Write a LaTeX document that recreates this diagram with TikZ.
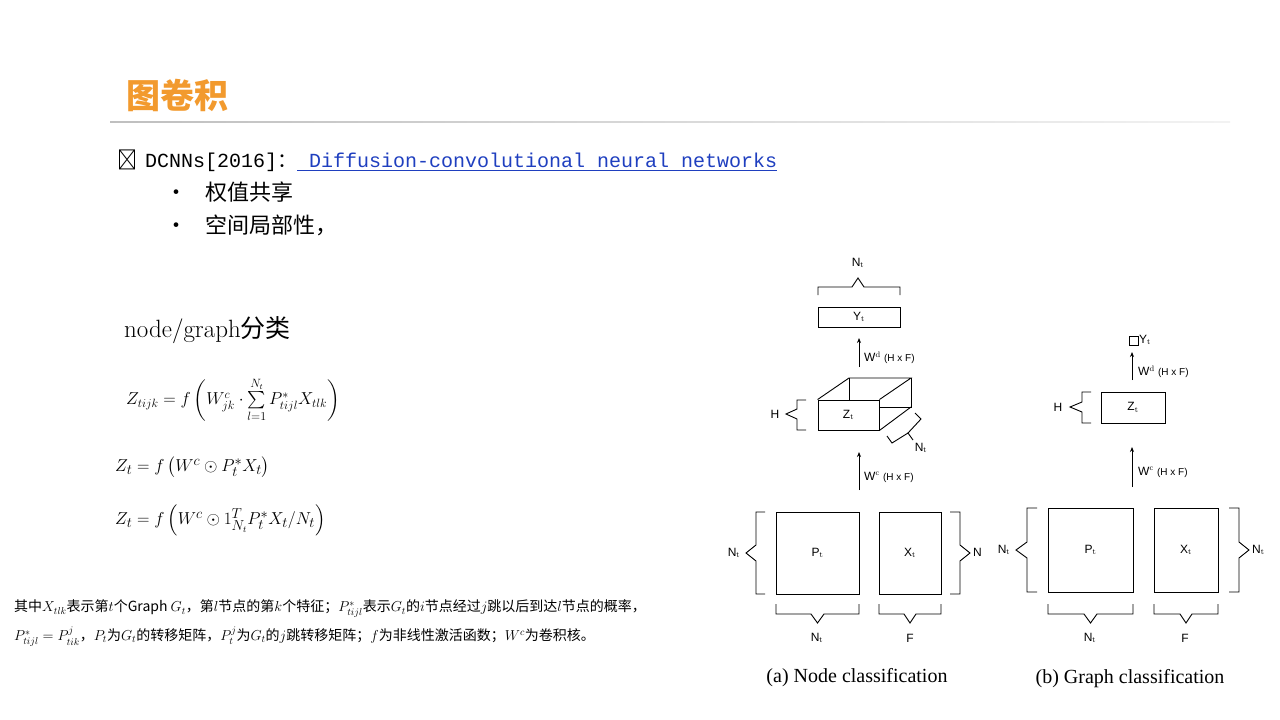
\documentclass[tikz,border=0pt]{standalone}
\usepackage{amsmath}
\usepackage{fontspec}
\usetikzlibrary{arrows.meta}
\newfontfamily\cjk{Noto Sans CJK SC}
\newfontfamily\lab{Liberation Sans}
\newfontfamily\capf{Liberation Serif}
\newfontfamily\mono{Liberation Mono}
\definecolor{titleor}{HTML}{F29A2E}
\definecolor{linkb}{HTML}{1F3FBF}
\begin{document}
\begin{tikzpicture}[x=1pt,y=-1pt,
  ln/.style={draw=black,line width=0.9pt},
  lb/.style={font=\lab\fontsize{12}{12}\selectfont,inner sep=0pt},
  captext/.style={font=\capf\fontsize{20}{20}\selectfont,inner sep=0pt},
  arr/.style={ln,-{Stealth[length=5pt,width=4pt]}},
  body/.style={inner sep=0pt,anchor=west}]
\useasboundingbox (0,0) rectangle (1280,720);
% title
\node[body,text=titleor,font=\cjk\bfseries\fontsize{34}{34}\selectfont] (title) at (126,95) {图卷积};
\shade[left color=gray!50,right color=gray!10] (110,121.5) rectangle (1230,122.5);
\node[body,font=\fontsize{20}{20}\selectfont] (head) at (117,161) {{\cjk ➢}\hspace{8pt}{\mono DCNNs[2016]}{\cjk ：}\textcolor{linkb}{\mono\underline{\ Diffusion-convolutional neural networks}}};
\node[body,font=\cjk\fontsize{22}{22}\selectfont] (b1) at (165,192) {•\hspace{18pt}权值共享};
\node[body,font=\cjk\fontsize{22}{22}\selectfont] (b2) at (165,225) {•\hspace{18pt}空间局部性，};
\node[body,font=\fontsize{25}{25}\selectfont] (ng) at (124,330) {node/graph{\cjk 分类}};
\node[body,font=\fontsize{17}{20}\selectfont] (e1) at (126,400) {$Z_{tijk}=f\left(W^c_{jk}\cdot\sum\limits_{l=1}^{N_t}P^*_{tijl}X_{tlk}\right)$};
\node[body,font=\fontsize{19}{20}\selectfont] (e2) at (115,467) {$Z_t=f\left(W^c\odot P^*_tX_t\right)$};
\node[body,font=\fontsize{19}{20}\selectfont] (e3) at (115,520) {$Z_t=f\left(W^c\odot 1^T_{N_t}P^*_tX_t/N_t\right)$};
\node[body,font=\cjk\fontsize{14}{14}\selectfont] (f1) at (14,609) {其中$X_{tlk}$表示第$t$个Graph $G_t$，第$l$节点的第$k$个特征；$P^*_{tijl}$表示$G_t$的$i$节点经过$j$跳以后到达$l$节点的概率，};
\node[body,font=\cjk\fontsize{14}{14}\selectfont] (f2) at (14,637) {$P^*_{tijl}=P^j_{tik}$，$P_t$为$G_t$的转移矩阵，$P^j_t$为$G_t$的$j$跳转移矩阵；$f$为非线性激活函数；$W^c$为卷积核。};
% ===== (a)
\node[ln,minimum width=82pt,minimum height=20pt,inner sep=0pt,lb] (Ya) at (859,317) {Y$_\mathrm{t}$};
\draw[ln] (818,295)--(818,287)--(852,287)--(858,278)--(864,287)--(900,287)--(900,295);
\node[lb] (NtY) at (858,263) {N$_\mathrm{t}$};
\node[ln,minimum width=61pt,minimum height=30pt,inner sep=0pt,lb] (Za) at (848.5,415) {Z$_\mathrm{t}$};
\draw[ln] (Za.north west)--(849,378)--(911,378)--(Za.north east);
\draw[ln] (849,378)--(849,400);
\draw[ln] (911,378)--(911,407)--(879,407);
\draw[ln] (911,407)--(Za.south east);
\draw[ln] (806,400)--(797,400)--(797,409)--(786,414)--(797,419)--(797,430)--(806,430);
\node[lb] (Ha) at (775,414) {H};
\draw[ln] (887,436)--(892,443)--(908,433)--(913,440);
\draw[ln] (908,433)--(921,419)--(915,413);
\node[lb] (NtZ) at (921,448) {N$_\mathrm{t}$};
\coordinate (a1s) at (859,367); \coordinate (a1e) at (859,338);
\draw[arr] (a1s)--(a1e);
\node[lb,anchor=west] (Wda) at (864,358) {W$^\mathrm{d}$ {\fontsize{10}{10}\selectfont(H x F)}};
\coordinate (a2s) at (859,490); \coordinate (a2e) at (859,452);
\draw[arr] (a2s)--(a2e);
\node[lb,anchor=west] (Wca) at (864,477) {W$^\mathrm{c}$ {\fontsize{10}{10}\selectfont(H x F)}};
\node[ln,minimum width=83pt,minimum height=82pt,inner sep=0pt,lb] (Pa) at (817.5,553) {P$_\mathrm{t}$};
\node[ln,minimum width=62pt,minimum height=82pt,inner sep=0pt,lb] (Xa) at (910,553) {X$_\mathrm{t}$};
\draw[ln] (765,512)--(756,512)--(756,545)--(746,553)--(756,561)--(756,594)--(765,594);
\node[lb] (Nla) at (734,553) {N$_\mathrm{t}$};
\draw[ln] (950,512)--(960,512)--(960,545)--(970,553)--(960,561)--(960,594)--(950,594);
\node[lb,anchor=west] (Nra) at (973,552) {N};
\draw[ln] (776,604)--(776,614)--(811,614)--(817.5,623)--(824,614)--(859,614)--(859,604);
\draw[ln] (879,604)--(879,614)--(904,614)--(910,623)--(916,614)--(941,614)--(941,604);
\node[lb] (NPa) at (817,638) {N$_\mathrm{t}$};
\node[lb] (FXa) at (910,638) {F};
\node[captext] (capa) at (857,678) {(a) Node classification};
% ===== (b)
\node[ln,minimum width=9pt,minimum height=9pt,inner sep=0pt,line width=0.7pt] (sq) at (1133.5,340.5) {};
\node[lb,anchor=west] (Yb) at (1139,340) {Y$_\mathrm{t}$};
\node[ln,minimum width=64pt,minimum height=31pt,inner sep=0pt,lb] (Zb) at (1133,407.5) {Z$_\mathrm{t}$};
\draw[ln] (1091,392)--(1082,392)--(1082,402)--(1070,407)--(1082,412)--(1082,423)--(1091,423);
\node[lb] (Hb) at (1058,407) {H};
\coordinate (b1s) at (1132,380); \coordinate (b1e) at (1132,352);
\draw[arr] (b1s)--(b1e);
\node[lb,anchor=west] (Wdb) at (1138,372) {W$^\mathrm{d}$ {\fontsize{10}{10}\selectfont(H x F)}};
\coordinate (b2s) at (1132,487); \coordinate (b2e) at (1132,447);
\draw[arr] (b2s)--(b2e);
\node[lb,anchor=west] (Wcb) at (1138,472) {W$^\mathrm{c}$ {\fontsize{10}{10}\selectfont(H x F)}};
\node[ln,minimum width=85pt,minimum height=84pt,inner sep=0pt,lb] (Pb) at (1090.5,550) {P$_\mathrm{t}$};
\node[ln,minimum width=64pt,minimum height=84pt,inner sep=0pt,lb] (Xb) at (1186,550) {X$_\mathrm{t}$};
\draw[ln] (1037,508)--(1027,508)--(1027,542)--(1016,550)--(1027,558)--(1027,592)--(1037,592);
\node[lb] (Nlb) at (1004,550) {N$_\mathrm{t}$};
\draw[ln] (1229,508)--(1239,508)--(1239,542)--(1249,550)--(1239,558)--(1239,592)--(1229,592);
\node[lb,anchor=west] (Nrb) at (1252,550) {N$_\mathrm{t}$};
\draw[ln] (1048,604)--(1048,614)--(1084,614)--(1090.5,623)--(1097,614)--(1133,614)--(1133,604);
\draw[ln] (1154,604)--(1154,614)--(1180,614)--(1186,623)--(1192,614)--(1218,614)--(1218,604);
\node[lb] (NPb) at (1090,638) {N$_\mathrm{t}$};
\node[lb] (FXb) at (1185,638) {F};
\node[captext] (capb) at (1130,679) {(b) Graph classification};
\end{tikzpicture}
\end{document}
